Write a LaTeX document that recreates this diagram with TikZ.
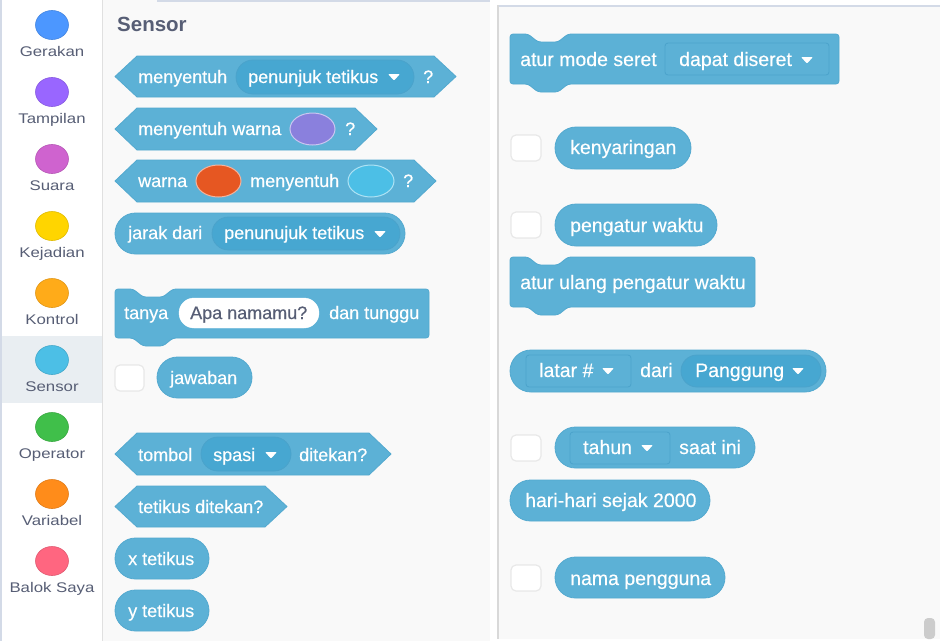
\documentclass[tikz,border=0pt]{standalone}
\usepackage{fontspec}
\setmainfont{Liberation Sans}
\newfontfamily\sisifont[FakeStretch=1.2]{Liberation Sans}
\newfontfamily\blokfont[FakeBold=0.35]{Liberation Sans}
\usepackage{tikz}
\definecolor{blokbiru}{HTML}{5CB1D6}
\definecolor{blokgaris}{HTML}{53A9CF}
\definecolor{menubiru}{HTML}{47A7D1}
\definecolor{menugaris}{HTML}{4BA3CB}
\definecolor{abu}{HTML}{575E75}
\definecolor{panel}{HTML}{F9F9F9}
\definecolor{tepi}{HTML}{D3DAE7}
\definecolor{aktif}{HTML}{E9EEF2}
\definecolor{gerakan}{HTML}{4C97FF}
\definecolor{tampilan}{HTML}{9966FF}
\definecolor{suara}{HTML}{CF63CF}
\definecolor{kejadian}{HTML}{FFD500}
\definecolor{kontrol}{HTML}{FFAB19}
\definecolor{sensor}{HTML}{4CBFE6}
\definecolor{operator}{HTML}{40BF4A}
\definecolor{variabel}{HTML}{FF8C1A}
\definecolor{baloksaya}{HTML}{FF6680}
\definecolor{ungu}{HTML}{8A80DD}
\definecolor{jingga}{HTML}{E65722}
\tikzset{
  blok/.style={draw=blokgaris,fill=blokbiru,line width=0.8pt,line join=round},
  menu/.style={draw=menugaris,fill=menubiru,line width=0.8pt},
  teks/.style={anchor=base west,inner sep=0pt,text=white,font=\fontsize{18}{20}\blokfont},
  teksb/.style={teks,font=\fontsize{19.5}{22}\blokfont},
  kategori/.style={anchor=base,inner sep=0pt,text=abu,font=\fontsize{14}{16}\sisifont},
}
% blok segi enam: x kiri, x kanan, y atas, y bawah
\newcommand{\hexblok}[4]{
  \draw[blok] (#1,{(#3+#4)/2}) -- (#1+22,#3) -- (#2-22,#3) -- (#2,{(#3+#4)/2}) -- (#2-22,#4) -- (#1+22,#4) -- cycle;
}
% bentuk bulat penuh di kedua ujung
\newcommand{\kapsul}[5]{
  \pgfmathsetmacro{\rk}{(#4-#3)/2}
  \draw[#5] (#1+\rk,#3) -- (#2-\rk,#3) arc[start angle=-90,end angle=90,radius=\rk] -- (#1+\rk,#4) arc[start angle=90,end angle=270,radius=\rk] -- cycle;
}
\newcommand{\bulatblok}[4]{\kapsul{#1}{#2}{#3}{#4}{blok}}
\newcommand{\menubulat}[4]{\kapsul{#1}{#2}{#3}{#4}{menu}}
% blok tumpuk dengan takik dan tonjolan
\newcommand{\tumpukblok}[4]{
  \draw[blok,rounded corners=3] (#1,#3) -- (#1+18,#3) -- (#1+28,#3+8) -- (#1+48,#3+8) -- (#1+58,#3) -- (#2,#3) -- (#2,#4) -- (#1+58,#4) -- (#1+48,#4+8) -- (#1+28,#4+8) -- (#1+18,#4) -- (#1,#4) -- cycle;
}
\newcommand{\menukotak}[4]{
  \draw[menu,fill=blokbiru,rounded corners=3] (#1,#3) rectangle (#2,#4);
}
\newcommand{\panah}[2]{
  \fill[white,rounded corners=1] (#1-6,#2-3) -- (#1+6,#2-3) -- (#1,#2+3.5) -- cycle;
}
\newcommand{\centang}[3]{
  \draw[fill=white,draw=black!9,line width=1.2pt,rounded corners=5] (#1,#3-13) rectangle (#2,#3+13);
}
\newcommand{\warnaoval}[4]{
  \draw[fill=#4,draw=white!55!#4,line width=1pt] (#1,#2) ellipse [x radius=#3,y radius=16];
}
\begin{document}
\begin{tikzpicture}[x=1pt,y=-1pt]
\useasboundingbox (0,0) rectangle (940,641);
\fill[white] (0,0) rectangle (940,641);
%Panel kiri dan kanan
\fill[panel] (103,0) rectangle (490,641);
\fill[panel] (498,5) rectangle (940,639);
\fill[tepi] (0,0) rectangle (1.5,641);
\fill[black!12] (102,0) rectangle (103,641);
\fill[tepi] (157,0) rectangle (490,1.5);
\fill[tepi] (497,5) rectangle (940,6.5);
\fill[black!15] (497,5) rectangle (498.5,639);
\fill[black!20,rounded corners=4] (924,618) rectangle (935,639);
\fill[aktif] (2,336) rectangle (102,403);
%Kategori
\foreach \i/\warna/\nama in {0/gerakan/Gerakan,1/tampilan/Tampilan,2/suara/Suara,3/kejadian/Kejadian,4/kontrol/Kontrol,5/sensor/Sensor,6/operator/Operator,7/variabel/Variabel,8/baloksaya/Balok Saya}{
  \pgfmathsetmacro{\yc}{25+67*\i}
  \draw[fill=\warna,draw=black!12!\warna,line width=0.6pt] (52,\yc) ellipse [x radius=16.5,y radius=14.5];
  \node[kategori] (kat\i) at (52,\yc+31) {\nama};
}
\node[anchor=base west,inner sep=0pt,text=abu,font=\fontsize{20.5}{23}\bfseries\selectfont] (judul) at (117,31.5) {Sensor};
%Kolom kiri
\hexblok{115}{456}{56}{97}
\menubulat{236}{414}{60}{94}
\node[teks] (a1) at (138,83) {menyentuh};
\node[teks] (a2) at (248,83) {penunjuk tetikus};
\panah{394}{77}
\node[teks] (a3) at (423,83) {?};
\hexblok{115}{377}{108}{150}
\node[teks] (b1) at (138,135) {menyentuh warna};
\warnaoval{312.5}{129}{22.5}{ungu}
\node[teks] (b2) at (345,135) {?};
\hexblok{115}{436}{160}{202}
\node[teks] (c1) at (138,187) {warna};
\warnaoval{218.5}{181}{22.5}{jingga}
\node[teks] (c2) at (250,187) {menyentuh};
\warnaoval{371}{181}{23}{sensor}
\node[teks] (c3) at (403,187) {?};
\bulatblok{115}{405}{213}{254}
\node[teks] (d1) at (128,239) {jarak dari};
\menubulat{212}{400}{217}{250}
\node[teks] (d2) at (224,239) {penunujuk tetikus};
\panah{380}{234}
\tumpukblok{115}{429}{289}{338}
\node[teks] (e1) at (124,319) {tanya};
\kapsul{179}{319}{298}{328}{fill=white,draw=white}
\node[teks,text=abu] (e2) at (190,319) {Apa namamu?};
\node[teks] (e3) at (329,319) {dan tunggu};
\centang{115}{144}{378}
\bulatblok{157}{252}{357}{398}
\node[teks] (f1) at (170,384) {jawaban};
\hexblok{115}{391}{433}{475}
\node[teks] (g1) at (138,461) {tombol};
\menubulat{201}{291}{437}{471}
\node[teks] (g2) at (213,461) {spasi};
\panah{271}{455}
\node[teks] (g3) at (299,461) {ditekan?};
\hexblok{115}{287}{486}{527}
\node[teks] (h1) at (138,513) {tetikus ditekan?};
\bulatblok{115}{209}{538}{579}
\node[teks] (i1) at (128,565) {x tetikus};
\bulatblok{115}{209}{590}{631}
\node[teks] (j1) at (128,617) {y tetikus};
%Kolom kanan
\tumpukblok{510}{839}{34}{84}
\node[teksb] (k1) at (520,66) {atur mode seret};
\menukotak{665}{829}{43}{75}
\node[teksb] (k2) at (679,66) {dapat diseret};
\panah{807}{60}
\centang{511}{541}{148}
\bulatblok{555}{691}{127}{169}
\node[teksb] (l1) at (570,154) {kenyaringan};
\centang{511}{541}{225}
\bulatblok{555}{717}{204}{246}
\node[teksb] (m1) at (570,232) {pengatur waktu};
\tumpukblok{510}{755}{257}{307}
\node[teksb] (n1) at (520,289) {atur ulang pengatur waktu};
\bulatblok{510}{826}{350}{392}
\menukotak{526}{631}{355}{387}
\node[teksb] (o1) at (539,377) {latar \#};
\panah{608}{371}
\node[teksb] (o2) at (640,377) {dari};
\menubulat{681}{821}{355}{387}
\node[teksb] (o3) at (695,377) {Panggung};
\panah{798}{371}
\centang{511}{541}{448}
\bulatblok{555}{755}{427}{468}
\menukotak{570}{670}{432}{464}
\node[teksb] (p1) at (583,454) {tahun};
\panah{647}{448}
\node[teksb] (p2) at (679,454) {saat ini};
\bulatblok{510}{710}{480}{521}
\node[teksb] (q1) at (525,507) {hari-hari sejak 2000};
\centang{511}{541}{578}
\bulatblok{555}{725}{557}{598}
\node[teksb] (r1) at (570,585) {nama pengguna};
\end{tikzpicture}
\end{document}
